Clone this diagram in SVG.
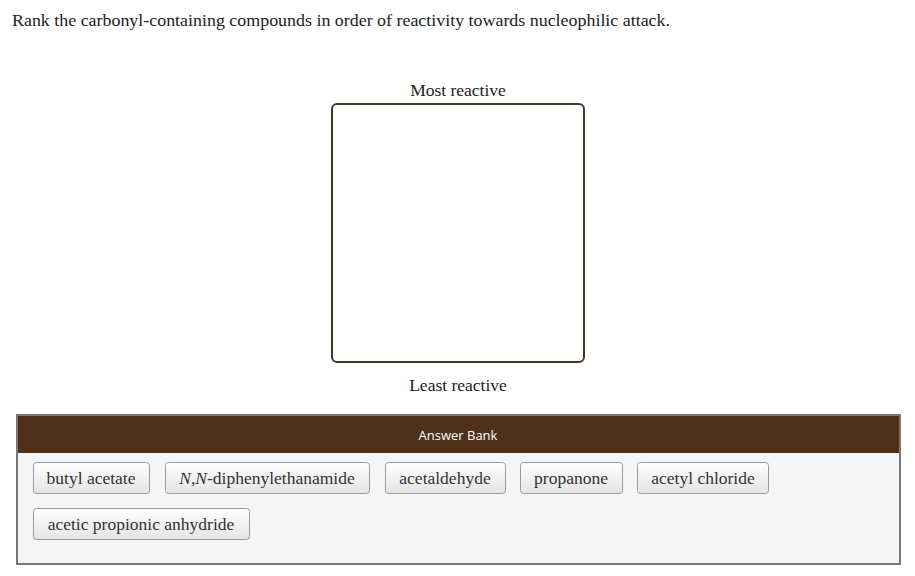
<svg xmlns="http://www.w3.org/2000/svg" width="915" height="576" viewBox="0 0 915 576">
<defs><linearGradient id="g" x1="0" y1="0" x2="0" y2="1"><stop offset="0" stop-color="#ffffff"/><stop offset="1" stop-color="#e4e4e4"/></linearGradient></defs>
<style>
.t{font-family:"Liberation Serif",serif;font-size:17.5px;fill:#222}
.b rect{fill:url(#g);stroke:#9a9a9a;stroke-width:1}
.b text{font-family:"Liberation Serif",serif;font-size:17.5px;fill:#333;text-anchor:middle}
</style>
<rect width="915" height="576" fill="#fff"/>
<text class="t" x="12" y="26" textLength="658" lengthAdjust="spacingAndGlyphs">Rank the carbonyl-containing compounds in order of reactivity towards nucleophilic attack.</text>
<g id="rankbox">
<text class="t" x="458" y="96" text-anchor="middle">Most reactive</text>
<rect x="332" y="104" width="252" height="258" rx="5" fill="#fff" stroke="#4a3520" stroke-width="2"/>
<text class="t" x="458" y="391" text-anchor="middle">Least reactive</text>
</g>
<g id="bank">
<rect x="17" y="415" width="883" height="149" fill="#f5f5f5" stroke="#777" stroke-width="2"/>
<rect x="18" y="416" width="881" height="37" fill="#4e3118"/>
<text x="458" y="440" text-anchor="middle" font-family="'Open Sans',sans-serif" font-size="13" fill="#fff">Answer Bank</text>
</g>
<g id="n1" class="b"><rect x="33.5" y="462.5" width="116" height="31" rx="3"/><text x="91" y="484">butyl acetate</text></g>
<g id="n2" class="b"><rect x="165.5" y="462.5" width="204" height="31" rx="3"/><text x="267" y="484"><tspan font-style="italic">N</tspan>,<tspan font-style="italic">N</tspan>-diphenylethanamide</text></g>
<g id="n3" class="b"><rect x="385.5" y="462.5" width="120" height="31" rx="3"/><text x="445" y="484">acetaldehyde</text></g>
<g id="n4" class="b"><rect x="520.5" y="462.5" width="102" height="31" rx="3"/><text x="571" y="484">propanone</text></g>
<g id="n5" class="b"><rect x="637.5" y="462.5" width="131" height="31" rx="3"/><text x="703" y="484">acetyl chloride</text></g>
<g id="n6" class="b"><rect x="33.5" y="508.5" width="216" height="31" rx="3"/><text x="141" y="530">acetic propionic anhydride</text></g>
<g id="connectors"/>
</svg>
